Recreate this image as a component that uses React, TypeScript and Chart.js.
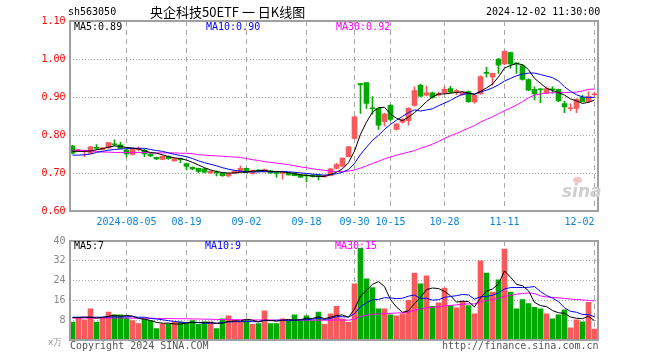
import React, { useEffect, useRef } from "react";
import { Chart, registerables } from "chart.js";

Chart.register(...registerables);

const dates = [
  "07-23","07-24","07-25","07-26","07-29","07-30","07-31",
  "08-01","08-02","08-05","08-06","08-07","08-08","08-09","08-12","08-13","08-14","08-15","08-16",
  "08-19","08-20","08-21","08-22","08-23","08-26","08-27","08-28","08-29","08-30",
  "09-02","09-03","09-04","09-05","09-06","09-09","09-10","09-11","09-12","09-13",
  "09-18","09-19","09-20","09-23","09-24","09-25","09-26","09-27","09-30",
  "10-08","10-09","10-10","10-11","10-14","10-15","10-16","10-17","10-18","10-21","10-22","10-23","10-24","10-25",
  "10-28","10-29","10-30","10-31",
  "11-01","11-04","11-05","11-06","11-07","11-08","11-11","11-12","11-13","11-14","11-15",
  "11-18","11-19","11-20","11-21","11-22","11-25","11-26","11-27","11-28","11-29",
  "12-02",
];

const tickDates = ["08-05","08-19","09-02","09-18","09-30","10-15","10-28","11-11","12-02"];
const tickTexts = ["2024-08-05","08-19","09-02","09-18","09-30","10-15","10-28","11-11","12-02     "];

const opens = [
  0.771,0.758,0.756,0.752,0.767,0.762,0.766,0.776,0.774,0.760,
  0.749,0.762,0.760,0.750,0.741,0.736,0.743,0.732,0.737,0.725,
  0.715,0.712,0.711,0.700,0.701,0.699,0.692,0.699,0.703,0.712,
  0.699,0.708,0.703,0.706,0.701,0.699,0.701,0.700,0.695,0.694,
  0.694,0.693,0.690,0.693,0.712,0.718,0.743,0.791,0.935,0.938,
  0.871,0.870,0.835,0.878,0.815,0.834,0.838,0.878,0.931,0.905,
  0.911,0.905,0.911,0.922,0.912,0.906,0.914,0.887,0.909,0.964,
  0.953,1.000,0.987,1.017,0.989,0.983,0.946,0.920,0.921,0.911,
  0.921,0.920,0.883,0.869,0.870,0.899,0.888,0.906,
];
const highs = [
  0.773,0.762,0.760,0.770,0.775,0.767,0.781,0.787,0.781,0.762,
  0.764,0.769,0.762,0.751,0.742,0.746,0.745,0.739,0.739,0.726,
  0.716,0.713,0.712,0.706,0.706,0.700,0.700,0.706,0.719,0.713,
  0.708,0.709,0.710,0.707,0.702,0.704,0.702,0.701,0.696,0.696,
  0.696,0.694,0.695,0.712,0.726,0.740,0.770,0.850,0.936,0.938,
  0.901,0.871,0.858,0.880,0.831,0.843,0.872,0.927,0.934,0.929,
  0.913,0.913,0.927,0.928,0.920,0.915,0.916,0.907,0.956,0.978,
  0.963,1.001,1.022,1.018,0.990,0.986,0.948,0.927,0.922,0.927,
  0.927,0.921,0.889,0.882,0.896,0.905,0.914,0.913,
];
const lows = [
  0.750,0.756,0.743,0.750,0.762,0.760,0.765,0.772,0.764,0.742,
  0.747,0.758,0.743,0.743,0.735,0.735,0.736,0.731,0.727,0.708,
  0.709,0.700,0.700,0.699,0.692,0.691,0.690,0.698,0.702,0.700,
  0.697,0.703,0.702,0.699,0.689,0.684,0.694,0.692,0.688,0.677,
  0.689,0.682,0.689,0.692,0.710,0.716,0.742,0.789,0.857,0.870,
  0.855,0.815,0.824,0.838,0.813,0.832,0.826,0.876,0.900,0.903,
  0.897,0.903,0.909,0.911,0.906,0.904,0.886,0.884,0.907,0.952,
  0.931,0.962,0.985,0.976,0.962,0.944,0.916,0.892,0.885,0.909,
  0.910,0.888,0.859,0.864,0.859,0.887,0.886,0.902,
];
const closes = [
  0.752,0.761,0.759,0.769,0.765,0.766,0.780,0.774,0.765,0.750,
  0.762,0.764,0.750,0.745,0.737,0.744,0.738,0.738,0.735,0.717,
  0.711,0.704,0.702,0.705,0.700,0.693,0.699,0.705,0.712,0.702,
  0.707,0.704,0.709,0.700,0.699,0.701,0.695,0.693,0.689,0.692,
  0.691,0.691,0.693,0.711,0.722,0.739,0.769,0.848,0.932,0.883,
  0.869,0.826,0.855,0.841,0.829,0.840,0.870,0.917,0.902,0.911,
  0.899,0.909,0.920,0.913,0.917,0.912,0.888,0.905,0.954,0.962,
  0.962,0.984,1.020,0.987,0.987,0.946,0.918,0.908,0.919,0.922,
  0.919,0.890,0.874,0.871,0.894,0.888,0.901,0.908,
];

const ma5 = [
  0.757,0.757,0.757,0.758,0.761,0.764,0.768,0.771,0.770,0.767,
  0.766,0.763,0.758,0.754,0.752,0.748,0.743,0.740,0.738,0.734,
  0.728,0.721,0.714,0.708,0.704,0.701,0.700,0.700,0.702,0.702,
  0.705,0.706,0.707,0.704,0.704,0.703,0.701,0.698,0.695,0.694,
  0.692,0.691,0.691,0.696,0.702,0.711,0.727,0.758,0.802,0.834,
  0.860,0.872,0.873,0.855,0.844,0.838,0.847,0.859,0.872,0.888,
  0.900,0.908,0.908,0.910,0.912,0.914,0.910,0.907,0.915,0.924,
  0.934,0.953,0.976,0.983,0.988,0.985,0.972,0.949,0.936,0.923,
  0.917,0.912,0.905,0.895,0.890,0.883,0.886,0.892,
];
const ma10 = [
  0.747,0.747,0.748,0.750,0.754,0.757,0.760,0.762,0.763,0.764,
  0.765,0.765,0.765,0.762,0.759,0.757,0.753,0.749,0.746,0.743,
  0.738,0.732,0.727,0.723,0.719,0.714,0.710,0.707,0.705,0.703,
  0.703,0.703,0.704,0.703,0.703,0.704,0.703,0.702,0.700,0.699,
  0.697,0.696,0.694,0.696,0.698,0.702,0.709,0.725,0.749,0.768,
  0.786,0.799,0.815,0.828,0.839,0.849,0.859,0.866,0.863,0.866,
  0.869,0.877,0.884,0.891,0.900,0.907,0.909,0.908,0.913,0.918,
  0.924,0.932,0.942,0.949,0.956,0.960,0.963,0.963,0.959,0.955,
  0.951,0.942,0.927,0.915,0.906,0.900,0.899,0.899,
];
const ma30 = [
  0.760,0.760,0.759,0.758,0.757,0.755,0.755,0.754,0.754,0.754,
  0.754,0.754,0.754,0.753,0.753,0.753,0.753,0.753,0.752,0.752,
  0.751,0.748,0.747,0.746,0.745,0.744,0.743,0.742,0.741,0.738,
  0.735,0.733,0.730,0.728,0.726,0.724,0.722,0.719,0.716,0.714,
  0.711,0.709,0.707,0.705,0.704,0.704,0.705,0.708,0.713,0.719,
  0.725,0.731,0.737,0.742,0.747,0.751,0.755,0.759,0.765,0.770,
  0.776,0.783,0.791,0.798,0.804,0.811,0.818,0.825,0.834,0.841,
  0.848,0.856,0.864,0.871,0.879,0.888,0.898,0.905,0.908,0.910,
  0.911,0.911,0.912,0.912,0.913,0.916,0.920,0.921,
];

const volumes = [
  7.2,8.9,8.2,12.6,7.2,8.9,11.3,10.2,10.2,8.9,
  7.8,6.6,8.5,7.8,4.6,6.5,6.5,7.3,7.3,6.9,
  7.8,6.3,7.3,7.3,4.6,8.6,9.8,8.2,7.3,8.2,
  6.3,6.6,11.8,6.6,6.6,8.6,7.8,10.2,7.8,9.8,
  7.8,11.3,6.3,10.6,13.6,8.6,7.1,22.7,37.0,24.7,
  21.2,12.6,12.6,10.2,9.8,10.6,16.0,27.0,22.7,25.9,
  13.6,15.0,21.0,13.9,13.0,15.6,13.9,10.6,32.0,27.0,
  19.4,24.3,36.7,19.4,12.6,16.3,14.7,13.2,12.6,10.6,
  8.6,10.2,12.2,4.9,8.2,7.3,15.2,4.4,
];
const volMa5 = [
  9.0,9.1,9.2,9.2,8.8,9.2,9.6,10.0,9.6,9.9,
  9.7,8.7,8.4,7.9,7.1,6.8,6.8,6.5,6.4,6.9,
  7.2,7.1,7.1,7.1,6.7,6.8,7.5,7.7,7.7,8.4,
  8.0,7.3,8.0,7.9,7.6,8.0,8.3,8.0,8.2,8.8,
  8.7,9.4,8.6,9.2,9.9,10.1,9.2,12.5,17.8,20.0,
  22.5,23.6,21.6,16.3,13.3,11.2,11.8,14.7,17.2,20.4,
  21.0,20.8,19.6,17.9,15.3,15.7,15.5,13.4,17.0,19.8,
  20.6,22.7,27.9,25.4,22.5,21.9,19.9,15.2,13.9,13.5,
  11.9,11.0,10.8,9.3,8.8,8.6,9.6,7.8,
];
const volMa10 = [
  9.2,9.2,9.2,9.2,9.2,9.2,9.3,9.3,9.3,9.4,
  9.4,9.2,9.2,8.7,8.5,8.2,7.8,7.5,7.2,7.0,
  7.0,7.0,6.8,6.8,6.8,7.0,7.3,7.4,7.4,7.5,
  7.4,7.4,7.9,7.8,8.0,8.0,7.8,8.0,8.1,8.2,
  8.4,8.8,8.3,8.7,9.4,9.4,9.3,10.6,13.5,15.0,
  16.3,16.4,17.1,17.0,16.7,16.9,17.7,18.2,16.7,16.9,
  16.1,16.3,17.2,17.6,17.9,18.4,18.2,16.5,17.5,17.6,
  18.1,19.1,20.6,21.2,21.2,21.2,21.3,21.6,19.6,18.0,
  16.9,15.5,13.0,11.6,11.2,10.3,10.3,9.4,
];
const volMa30 = [
  8.9,8.9,8.9,8.9,8.9,8.9,8.9,8.9,8.9,8.9,
  8.8,8.8,8.8,8.8,8.7,8.7,8.7,8.6,8.6,8.6,
  8.5,8.5,8.4,8.4,8.3,8.3,8.3,8.2,8.2,8.2,
  8.1,8.1,8.1,8.1,8.0,8.0,8.0,8.0,8.0,8.0,
  8.0,8.0,8.0,8.0,8.1,8.1,8.0,8.5,9.5,10.0,
  10.4,10.5,10.7,10.8,10.9,11.0,11.3,12.0,12.5,13.0,
  13.2,13.4,13.8,14.0,14.2,14.5,14.6,14.6,15.4,16.0,
  16.3,16.8,17.7,18.0,18.5,18.8,19.0,18.8,17.8,17.4,
  17.2,17.0,16.8,16.5,16.4,16.2,16.0,15.8,
];

const UP = "#f65a5a";
const DOWN = "#00a800";
const MONO = "'DejaVu Sans Mono', monospace";
const GRID = "#a8a8a8";

const framePlugin = {
  id: "frame",
  afterDraw(chart: any) {
    const { ctx, chartArea: a } = chart;
    ctx.save();
    ctx.strokeStyle = "#a0a0a0";
    ctx.lineWidth = 2;
    const l = Math.round(a.left), t = Math.round(a.top);
    const r = Math.round(a.right), b = Math.round(a.bottom);
    ctx.strokeRect(l, t, r - l, b - t);
    ctx.restore();
  },
};

const isTickIndex = (i: number) => tickDates.includes(dates[i]);

export default function App() {
  const priceRef = useRef<HTMLCanvasElement>(null);
  const volRef = useRef<HTMLCanvasElement>(null);

  useEffect(() => {
    Chart.defaults.font.family = MONO;
    const colors = closes.map((c, i) => (c >= opens[i] ? UP : DOWN));
    const xGridColor = (ctx: any) =>
      ctx.type === "tick" && isTickIndex(ctx.index) ? GRID : "rgba(0,0,0,0)";

    const lineDs = (label: string, data: number[], color: string) => ({
      type: "line" as const,
      label,
      data,
      borderColor: color,
      backgroundColor: color,
      borderWidth: 1,
      pointRadius: 0,
      tension: 0,
      fill: false,
      order: 0,
    });

    const price = new Chart(priceRef.current as HTMLCanvasElement, {
      type: "bar",
      data: {
        labels: dates,
        datasets: [
          lineDs("MA5", ma5, "#000000"),
          lineDs("MA10", ma10, "#0000ff"),
          lineDs("MA30", ma30, "#ff00ff"),
          {
            type: "bar",
            label: "wick",
            data: lows.map((l, i) => [l, highs[i]]),
            backgroundColor: colors,
            barThickness: 1,
            grouped: false,
            minBarLength: 1,
            order: 2,
          } as any,
          {
            type: "bar",
            label: "body",
            data: opens.map((o, i) => [o, closes[i]]),
            backgroundColor: colors,
            barThickness: 5,
            grouped: false,
            minBarLength: 1,
            order: 1,
          } as any,
        ],
      },
      options: {
        responsive: false,
        animation: false,
        devicePixelRatio: 1,
        layout: { padding: { top: 21, right: 62.5, left: 0, bottom: 0 } },
        plugins: { legend: { display: false }, tooltip: { enabled: false } },
        scales: {
          x: {
            type: "category",
            offset: true,
            afterFit: (s: any) => { s.height = 24; },
            grid: { offset: false, color: xGridColor, lineWidth: 1, drawTicks: false },
            border: { display: false, dash: [5, 4] },
            ticks: {
              autoSkip: false,
              maxRotation: 0,
              minRotation: 0,
              padding: 5,
              color: "#0a84d6",
              font: { family: MONO, size: 10 },
              callback: (_v: any, i: number) => {
                const k = tickDates.indexOf(dates[i]);
                return k >= 0 ? tickTexts[k] : "";
              },
            },
          },
          y: {
            min: 0.6,
            max: 1.1,
            afterFit: (s: any) => { s.width = 69.5; },
            grid: {
              drawTicks: false,
              color: (ctx: any) =>
                ctx.tick && ctx.tick.value > 0.61 && ctx.tick.value < 1.09 ? GRID : "rgba(0,0,0,0)",
            },
            border: { display: false, dash: [1, 2] },
            ticks: {
              stepSize: 0.1,
              padding: 4,
              color: "#ff0000",
              font: { family: MONO, size: 10 },
              callback: (v: any) => Number(v).toFixed(2),
            },
          },
        },
      } as any,
      plugins: [framePlugin],
    });

    const vol = new Chart(volRef.current as HTMLCanvasElement, {
      type: "bar",
      data: {
        labels: dates,
        datasets: [
          lineDs("MA5", volMa5, "#000000"),
          lineDs("MA10", volMa10, "#0000ff"),
          lineDs("MA30", volMa30, "#ff00ff"),
          {
            type: "bar",
            label: "volume",
            data: volumes,
            backgroundColor: colors,
            barThickness: 5,
            grouped: false,
            order: 1,
          } as any,
        ],
      },
      options: {
        responsive: false,
        animation: false,
        devicePixelRatio: 1,
        layout: { padding: { top: 11, right: 62.5, left: 0, bottom: 0 } },
        plugins: { legend: { display: false }, tooltip: { enabled: false } },
        scales: {
          x: {
            type: "category",
            offset: true,
            afterFit: (s: any) => { s.height = 20; },
            grid: { offset: false, color: xGridColor, lineWidth: 1, drawTicks: false },
            border: { display: false, dash: [5, 4] },
            ticks: { display: false, autoSkip: false },
          },
          y: {
            min: 0,
            max: 40,
            afterFit: (s: any) => { s.width = 69.5; },
            grid: {
              drawTicks: false,
              color: (ctx: any) =>
                ctx.tick && ctx.tick.value > 0 && ctx.tick.value < 40 ? GRID : "rgba(0,0,0,0)",
            },
            border: { display: false, dash: [1, 2] },
            ticks: {
              stepSize: 8,
              padding: 4,
              color: "#888888",
              font: { family: MONO, size: 10 },
              callback: (v: any) => (Number(v) === 0 ? "" : String(v)),
            },
          },
        },
      } as any,
      plugins: [framePlugin],
    });

    return () => {
      price.destroy();
      vol.destroy();
    };
  }, []);

  const last = (a: number[]) => a[a.length - 1];
  const txt = (left: number, top: number, color: string, size = 10): React.CSSProperties => ({
    position: "absolute",
    left,
    top,
    color,
    fontFamily: MONO,
    fontSize: size,
    lineHeight: "12px",
    whiteSpace: "pre",
  });

  return (
    <div style={{ position: "fixed", left: 0, top: 0, width: 660, height: 360, background: "#fff", overflow: "hidden" }}>
      <canvas ref={priceRef} width={660} height={235} style={{ position: "absolute", left: 0, top: 0 }} />
      <canvas ref={volRef} width={660} height={130} style={{ position: "absolute", left: 0, top: 230 }} />

      <div style={txt(68, 6, "#000")}>sh563050</div>
      <div style={{ position: "absolute", left: 150, top: 4, fontFamily: "'Noto Sans CJK SC', sans-serif", fontSize: 13, lineHeight: "16px", color: "#000", whiteSpace: "pre" }}>
        央企科技50ETF 一 日K线图
      </div>
      <div style={txt(486, 6, "#000")}>2024-12-02 11:30:00</div>

      <div style={txt(74, 21, "#000")}>{`MA5:${last(ma5).toFixed(2)}`}</div>
      <div style={txt(206, 21, "#0000ff")}>{`MA10:${last(ma10).toFixed(2)}`}</div>
      <div style={txt(336, 21, "#ff00ff")}>{`MA30:${last(ma30).toFixed(2)}`}</div>

      <div style={txt(74, 240, "#000")}>{`MA5:${Math.floor(last(volMa5))}`}</div>
      <div style={txt(205, 240, "#0000ff")}>{`MA10:${Math.floor(last(volMa10))}`}</div>
      <div style={txt(335, 240, "#ff00ff")}>{`MA30:${Math.floor(last(volMa30))}`}</div>

      <div style={{ position: "absolute", left: 562, top: 181, fontFamily: "'DejaVu Sans', sans-serif", fontStyle: "italic", fontWeight: "bold", fontSize: 17, color: "#cfcfcf", lineHeight: "20px" }}>sina</div>
      <div style={{ position: "absolute", left: 573, top: 177, width: 9, height: 6, borderRadius: "50%", background: "#f3c4c4" }} />

      <div style={txt(48, 336, "#999", 9)}>x万</div>
      <div style={txt(70, 340, "#555")}>Copyright 2024 SINA.COM</div>
      <div style={txt(442, 340, "#555")}>http://finance.sina.com.cn</div>
    </div>
  );
}
